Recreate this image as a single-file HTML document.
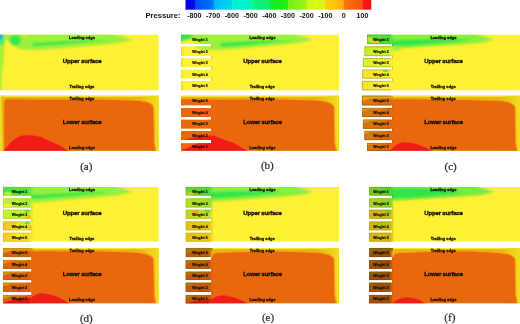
<!DOCTYPE html>
<html lang="en"><head><meta charset="utf-8"><title>Pressure contours</title>
<style>html,body{margin:0;padding:0;background:#fff}body{width:520px;height:324px;overflow:hidden}svg{display:block}</style>
</head><body>
<svg width="520" height="324" viewBox="0 0 520 324">
<defs>
<filter id="b1" x="-10%" y="-40%" width="120%" height="180%"><feGaussianBlur stdDeviation="0.9"/></filter>
<filter id="b2" x="-10%" y="-40%" width="120%" height="180%"><feGaussianBlur stdDeviation="0.6"/></filter>
<filter id="b3" x="-10%" y="-40%" width="120%" height="180%"><feGaussianBlur stdDeviation="1.1"/></filter>
<filter id="b4" x="-10%" y="-40%" width="120%" height="180%"><feGaussianBlur stdDeviation="0.3"/></filter>
<filter id="soft" x="-2%" y="-2%" width="104%" height="104%"><feGaussianBlur stdDeviation="0.35"/></filter>
<filter id="softt" x="-5%" y="-20%" width="110%" height="140%"><feGaussianBlur stdDeviation="0.25"/></filter>
<linearGradient id="goldtop" x1="0" y1="0" x2="0" y2="1"><stop offset="0" stop-color="#e4b80c"/><stop offset="1" stop-color="#f0cc18"/></linearGradient>
<clipPath id="cua"><path d="M0.0 34.8H158.6V90.2H0.0Z"/></clipPath>
<clipPath id="cla"><path d="M0.0 95.8H158.6V150.8H0.0Z"/></clipPath>
<clipPath id="cub"><path d="M211.2 34.8H339.0V90.2H211.2Z M181.0 34.8H211.39999999999998V44.0H181.0Z M181.0 46.6H211.39999999999998V56.0H181.0Z M181.0 58.3H211.39999999999998V67.0H181.0Z M181.0 69.7H211.39999999999998V78.4H181.0Z M181.0 81.0H211.39999999999998V90.2H181.0Z"/></clipPath>
<clipPath id="clb"><path d="M211.2 95.8H339.0V150.8H211.2Z M181.0 95.8H211.39999999999998V105.3H181.0Z M181.0 108.0H211.39999999999998V117.0H181.0Z M181.0 119.7H211.39999999999998V128.6H181.0Z M181.0 130.9H211.39999999999998V140.0H181.0Z M181.0 143.2H211.39999999999998V150.8H181.0Z"/></clipPath>
<clipPath id="cuc"><path d="M392.0 34.8H520.0V90.2H392.0Z M367.3 34.8H392.2V44.0H367.3Z M364.6 46.6H392.2V56.0H364.6Z M363.0 58.3H392.2V67.0H363.0Z M362.4 69.7H392.2V78.4H362.4Z M362.0 81.0H392.2V90.2H362.0Z"/></clipPath>
<clipPath id="clc"><path d="M392.0 95.8H520.0V150.8H392.0Z M362.0 95.8H392.2V105.3H362.0Z M362.4 108.0H392.2V117.0H362.4Z M363.0 119.7H392.2V128.6H363.0Z M364.6 130.9H392.2V140.0H364.6Z M367.3 143.2H392.2V150.8H367.3Z"/></clipPath>
<clipPath id="cud"><path d="M31.5 186.9H158.6V241.6H31.5Z M3.0 186.9H31.7V195.4H3.0Z M3.0 198.4H31.7V207.4H3.0Z M3.0 209.7H31.7V218.8H3.0Z M3.0 221.6H31.7V230.3H3.0Z M3.0 232.8H31.7V241.6H3.0Z"/></clipPath>
<clipPath id="cld"><path d="M31.5 248.0H158.6V303.2H31.5Z M3.0 248.0H31.7V257.0H3.0Z M3.0 260.3H31.7V268.7H3.0Z M3.0 271.8H31.7V280.0H3.0Z M3.0 282.8H31.7V291.8H3.0Z M3.0 295.0H31.7V303.2H3.0Z"/></clipPath>
<clipPath id="cue"><path d="M211.4 186.9H339.0V241.6H211.4Z M185.8 186.9H211.6V195.4H185.8Z M185.8 198.4H211.6V207.4H185.8Z M185.8 209.7H211.6V218.8H185.8Z M185.8 221.6H211.6V230.3H185.8Z M185.8 232.8H211.6V241.6H185.8Z"/></clipPath>
<clipPath id="cle"><path d="M211.4 248.0H339.0V303.2H211.4Z M185.8 248.0H211.6V257.0H185.8Z M185.8 260.3H211.6V268.7H185.8Z M185.8 271.8H211.6V280.0H185.8Z M185.8 282.8H211.6V291.8H185.8Z M185.8 295.0H211.6V303.2H185.8Z"/></clipPath>
<clipPath id="cuf"><path d="M392.0 186.9H520.0V241.6H392.0Z M369.2 186.9H392.2V195.4H369.2Z M369.2 198.4H392.2V207.4H369.2Z M369.2 209.7H392.2V218.8H369.2Z M369.2 221.6H392.2V230.3H369.2Z M369.2 232.8H392.2V241.6H369.2Z"/></clipPath>
<clipPath id="clf"><path d="M392.0 248.0H520.0V303.2H392.0Z M369.2 248.0H392.2V257.0H369.2Z M369.2 260.3H392.2V268.7H369.2Z M369.2 271.8H392.2V280.0H369.2Z M369.2 282.8H392.2V291.8H369.2Z M369.2 295.0H392.2V303.2H369.2Z"/></clipPath>
</defs>
<rect width="520" height="324" fill="#fff"/>
<g id="legend" filter="url(#soft)">
<linearGradient id="lg0" x1="0" y1="0" x2="1" y2="0"><stop offset="0" stop-color="#0404e4"/><stop offset="0.5" stop-color="#0404e4"/><stop offset="1" stop-color="#0418e8"/></linearGradient>
<rect x="185.5" y="-1" width="9.8" height="10.7" fill="url(#lg0)"/>
<linearGradient id="lg1" x1="0" y1="0" x2="1" y2="0"><stop offset="0" stop-color="#044cf0"/><stop offset="0.5" stop-color="#0460f4"/><stop offset="1" stop-color="#0478f5"/></linearGradient>
<rect x="195.0" y="-1" width="19.0" height="10.7" fill="url(#lg1)"/>
<linearGradient id="lg2" x1="0" y1="0" x2="1" y2="0"><stop offset="0" stop-color="#04b4f7"/><stop offset="0.5" stop-color="#04ccf8"/><stop offset="1" stop-color="#04d5ef"/></linearGradient>
<rect x="213.7" y="-1" width="19.0" height="10.7" fill="url(#lg2)"/>
<linearGradient id="lg3" x1="0" y1="0" x2="1" y2="0"><stop offset="0" stop-color="#04ebd9"/><stop offset="0.5" stop-color="#04f4d0"/><stop offset="1" stop-color="#05f3bd"/></linearGradient>
<rect x="232.4" y="-1" width="19.1" height="10.7" fill="url(#lg3)"/>
<linearGradient id="lg4" x1="0" y1="0" x2="1" y2="0"><stop offset="0" stop-color="#07f18b"/><stop offset="0.5" stop-color="#08f078"/><stop offset="1" stop-color="#0bef63"/></linearGradient>
<rect x="251.2" y="-1" width="19.0" height="10.7" fill="url(#lg4)"/>
<linearGradient id="lg5" x1="0" y1="0" x2="1" y2="0"><stop offset="0" stop-color="#13ed2f"/><stop offset="0.5" stop-color="#16ec1a"/><stop offset="1" stop-color="#30ed19"/></linearGradient>
<rect x="269.9" y="-1" width="18.7" height="10.7" fill="url(#lg5)"/>
<linearGradient id="lg6" x1="0" y1="0" x2="1" y2="0"><stop offset="0" stop-color="#72ef15"/><stop offset="0.5" stop-color="#8cf014"/><stop offset="1" stop-color="#9ef214"/></linearGradient>
<rect x="288.3" y="-1" width="18.6" height="10.7" fill="url(#lg6)"/>
<linearGradient id="lg7" x1="0" y1="0" x2="1" y2="0"><stop offset="0" stop-color="#caf614"/><stop offset="0.5" stop-color="#dcf814"/><stop offset="1" stop-color="#e3ed13"/></linearGradient>
<rect x="306.6" y="-1" width="18.9" height="10.7" fill="url(#lg7)"/>
<linearGradient id="lg8" x1="0" y1="0" x2="1" y2="0"><stop offset="0" stop-color="#f5cf11"/><stop offset="0.5" stop-color="#fcc410"/><stop offset="1" stop-color="#fbaf10"/></linearGradient>
<rect x="325.2" y="-1" width="18.7" height="10.7" fill="url(#lg8)"/>
<linearGradient id="lg9" x1="0" y1="0" x2="1" y2="0"><stop offset="0" stop-color="#f97910"/><stop offset="0.5" stop-color="#f86410"/><stop offset="1" stop-color="#f65211"/></linearGradient>
<rect x="343.6" y="-1" width="18.9" height="10.7" fill="url(#lg9)"/>
<linearGradient id="lg10" x1="0" y1="0" x2="1" y2="0"><stop offset="0" stop-color="#f22613"/><stop offset="0.5" stop-color="#f01414"/><stop offset="1" stop-color="#f01414"/></linearGradient>
<rect x="362.2" y="-1" width="9.1" height="10.7" fill="url(#lg10)"/>
</g>
<g font-family="'Liberation Sans', Arial, sans-serif" fill="#141414" filter="url(#softt)">
<text transform="translate(145.5 17.8) scale(0.1)" font-size="65" font-weight="bold" textLength="351" lengthAdjust="spacingAndGlyphs">Pressure:</text>
<text transform="translate(187.2 17.8) scale(0.1)" font-size="64" font-weight="bold" textLength="143" lengthAdjust="spacingAndGlyphs">-800</text>
<text transform="translate(205.9 17.8) scale(0.1)" font-size="64" font-weight="bold" textLength="143" lengthAdjust="spacingAndGlyphs">-700</text>
<text transform="translate(224.7 17.8) scale(0.1)" font-size="64" font-weight="bold" textLength="143" lengthAdjust="spacingAndGlyphs">-600</text>
<text transform="translate(243.4 17.8) scale(0.1)" font-size="64" font-weight="bold" textLength="143" lengthAdjust="spacingAndGlyphs">-500</text>
<text transform="translate(262.2 17.8) scale(0.1)" font-size="64" font-weight="bold" textLength="143" lengthAdjust="spacingAndGlyphs">-400</text>
<text transform="translate(280.7 17.8) scale(0.1)" font-size="64" font-weight="bold" textLength="143" lengthAdjust="spacingAndGlyphs">-300</text>
<text transform="translate(299.4 17.8) scale(0.1)" font-size="64" font-weight="bold" textLength="143" lengthAdjust="spacingAndGlyphs">-200</text>
<text transform="translate(318.2 17.8) scale(0.1)" font-size="64" font-weight="bold" textLength="143" lengthAdjust="spacingAndGlyphs">-100</text>
<text transform="translate(341.8 17.8) scale(0.1)" font-size="64" font-weight="bold" textLength="40" lengthAdjust="spacingAndGlyphs">0</text>
<text transform="translate(356.6 17.8) scale(0.1)" font-size="64" font-weight="bold" textLength="118" lengthAdjust="spacingAndGlyphs">100</text>
</g>
<g id="pa" filter="url(#soft)">
<g clip-path="url(#cua)">
<rect x="-2.0" y="33.8" width="162.6" height="57.4" fill="#fef032"/>
<g filter="url(#b3)">
<path d="M-3.0 31.799999999999997 H108.0 L122.0 36.4 L132.5 39.9 L120.0 42.8 L100.0 44.9 L60.0 48.4 L36.0 50.3 L22.0 49.4 L16.0 47.4 L9.5 41.8 L6.6 39.3 L-3.0 39.3 Z" fill="#9cf03c"/>
<path d="M-3.0 34.8 H6.6 L4.6 44.8 L3.6 58.8 L1.8 74.8 L1.0 92.8 L-3.0 92.8 Z" fill="#a4f03a"/>
</g>
<g filter="url(#b1)">
<path d="M32.0 43.9 L35.1 43.2 L55.4 42.0 L78.8 40.9 L98.3 40.2 L110.0 39.9 L110.0 40.1 L98.3 41.2 L78.8 42.8 L55.4 44.6 L35.1 45.8 L32.0 45.5Z" fill="#30e44a"/>
<ellipse cx="15.2" cy="40.199999999999996" rx="5.4" ry="5.0" fill="#38e650"/>
<ellipse cx="25.0" cy="36.099999999999994" rx="2.2" ry="1" fill="#e8f030"/>
<rect x="-2.0" y="32.8" width="5.6" height="12" fill="#50e870"/>
<rect x="-2.0" y="32.8" width="4.6" height="7.4" fill="#28dcc0"/>
<rect x="-2.0" y="32.8" width="3.2" height="6.2" fill="#2880f0"/>
</g>
</g>
<g clip-path="url(#cla)">
<rect x="-2.0" y="94.8" width="162.6" height="57.0" fill="url(#goldtop)"/>
<rect x="-2.0" y="94.6" width="162.6" height="2.3" fill="#f8e434" filter="url(#b2)"/>
<rect x="-1.2" y="94.8" width="2.6" height="57.0" fill="#f4dc30" filter="url(#b2)"/>
<linearGradient id="rsa" gradientUnits="userSpaceOnUse" x1="138.0" y1="0" x2="158.6" y2="0"><stop offset="0" stop-color="#ecd41a" stop-opacity="0"/><stop offset="0.7" stop-color="#ecd41a"/><stop offset="1" stop-color="#f2dc22"/></linearGradient>
<rect x="138.0" y="94.8" width="22" height="57.0" fill="url(#rsa)"/>
<g filter="url(#b2)">
<path d="M3.7 152.8 V102.8 Q3.7 98.69999999999999 8.7 98.6 L40.0 99.1 L100.0 98.8 L135.0 100.2 Q153.3 101.39999999999999 153.8 107.8 L154.4 142.8 L156.4 152.8 Z" fill="#e96711" stroke="#f8a012" stroke-width="1.2"/>
</g>
<g filter="url(#b4)">
<path d="M2.5,152 L6,148 L10,143 Q17,135.6 25,135 Q33,134.8 40,136.6 L60,145.4 L70.5,152 Z" fill="#f01a14" stroke="#f4521a" stroke-width="0.5"/>
</g>
</g>
</g>
<g id="pb" filter="url(#soft)">
<g clip-path="url(#cub)">
<rect x="178.4" y="33.8" width="162.6" height="57.4" fill="#fef032"/>
<g filter="url(#b3)">
<path d="M177.4 31.799999999999997 H288.4 L302.4 36.4 L312.9 39.9 L300.4 42.8 L280.4 44.9 L240.4 48.4 L216.4 50.3 L202.4 49.4 L196.4 47.4 L189.9 41.8 L187.0 39.3 L177.4 39.3 Z" fill="#9cf03c"/>
<rect x="179.4" y="38.8" width="2.4" height="60" fill="#c4dc28"/>
</g>
<g filter="url(#b1)">
<path d="M220.4 44.0 L223.3 43.2 L242.0 42.0 L263.6 41.0 L281.6 40.4 L292.4 40.2 L292.4 40.4 L281.6 41.6 L263.6 43.3 L242.0 45.2 L223.3 46.4 L220.4 46.0Z" fill="#30e44a"/>
<path d="M178.4 32.8 H193.4 L189.4 39.3 L183.4 41.8 L178.4 42.3 Z" fill="#30e44a"/>
<path d="M180.4 44.8 L183.4 40.8 L189.4 40.199999999999996 L196.4 41.8 L202.4 44.8 Z" fill="#fef032"/>
</g>
</g>
<g clip-path="url(#clb)">
<rect x="178.4" y="94.8" width="162.6" height="57.0" fill="url(#goldtop)"/>
<rect x="178.4" y="94.6" width="162.6" height="2.3" fill="#f8e434" filter="url(#b2)"/>
<linearGradient id="rsb" gradientUnits="userSpaceOnUse" x1="318.4" y1="0" x2="339.0" y2="0"><stop offset="0" stop-color="#ecd41a" stop-opacity="0"/><stop offset="0.7" stop-color="#ecd41a"/><stop offset="1" stop-color="#f2dc22"/></linearGradient>
<rect x="318.4" y="94.8" width="22" height="57.0" fill="url(#rsb)"/>
<g filter="url(#b2)">
<path d="M177.4 152.8 V102.8 Q177.4 98.69999999999999 182.4 98.6 L189.1 98.6 L220.4 99.1 L280.4 98.8 L315.4 100.2 Q333.7 101.39999999999999 334.2 107.8 L334.8 142.8 L336.8 152.8 Z" fill="#e96711" stroke="#f8a012" stroke-width="1.2"/>
</g>
<g filter="url(#b4)">
<path d="M181,152 L182.5,150 L190,146.5 L199,142.5 L213,142.5 L213,152 Z" fill="#f01a14" stroke="#f4521a" stroke-width="0.5"/>
<path d="M181,141.5 L183,140.2 L190,138 L200,136.3 L211,135.3 L215,135.8 L220,138 L234,143 L249.4,152 L205,152 L205,141.5 Z" fill="#f01a14" stroke="#f4521a" stroke-width="0.5"/>
</g>
</g>
<path d="M211.55 43.8V46.8 M211.55 55.8V58.5 M211.55 66.8V69.9 M211.55 78.2V81.2 M211.55 105.1V108.2 M211.55 116.8V119.9 M211.55 128.4V131.1 M211.55 139.8V143.4" fill="none" stroke="#4a4a20" stroke-width="0.55" opacity="0.5"/>
</g>
<g id="pc" filter="url(#soft)">
<g clip-path="url(#cuc)">
<rect x="359.4" y="33.8" width="162.6" height="57.4" fill="#fef032"/>
<g filter="url(#b3)">
<path d="M358.4 31.799999999999997 H469.4 L483.4 36.4 L493.9 39.9 L481.4 42.8 L461.4 44.4 L421.4 47.0 L397.4 48.6 L383.4 47.7 L377.4 47.4 L370.9 41.8 L368.0 39.3 L358.4 39.3 Z" fill="#88f03c"/>
</g>
<g filter="url(#b1)">
<path d="M390.4 41.8 L393.6 40.7 L414.1 39.7 L437.8 39.4 L457.6 39.3 L469.4 39.7 L469.4 39.9 L457.6 41.4 L437.8 43.1 L414.1 44.9 L393.6 45.9 L390.4 45.0Z" fill="#30e44a"/>
<ellipse cx="395.4" cy="48.3" rx="5.5" ry="2.6" fill="#a0f03c"/>
</g>
<g filter="url(#b2)">
<linearGradient id="guc0" gradientUnits="userSpaceOnUse" x1="362.0" y1="0" x2="394.5" y2="0"><stop offset="0" stop-color="#70dc38"/><stop offset="0.85" stop-color="#48dc40"/><stop offset="1" stop-color="#48dc40" stop-opacity="0"/></linearGradient>
<rect x="359.0" y="34.3" width="35.5" height="10.2" fill="url(#guc0)"/>
<ellipse cx="374.4" cy="41.8" rx="5" ry="1.6" fill="#f0c828"/>
<ellipse cx="369.4" cy="39.3" rx="2.5" ry="2.5" fill="#b8e830"/>
<linearGradient id="guc1" gradientUnits="userSpaceOnUse" x1="362.0" y1="0" x2="394.5" y2="0"><stop offset="0" stop-color="#c4f024"/><stop offset="0.85" stop-color="#d0f428"/><stop offset="1" stop-color="#d0f428" stop-opacity="0"/></linearGradient>
<rect x="359.0" y="46.1" width="35.5" height="10.4" fill="url(#guc1)"/>
<linearGradient id="guc2" gradientUnits="userSpaceOnUse" x1="362.0" y1="0" x2="394.5" y2="0"><stop offset="0" stop-color="#d4f428"/><stop offset="0.85" stop-color="#f0f030"/><stop offset="1" stop-color="#f0f030" stop-opacity="0"/></linearGradient>
<rect x="359.0" y="57.8" width="35.5" height="9.7" fill="url(#guc2)"/>
<linearGradient id="guc3" gradientUnits="userSpaceOnUse" x1="362.0" y1="0" x2="394.5" y2="0"><stop offset="0" stop-color="#f8e430"/><stop offset="0.85" stop-color="#fcec30"/><stop offset="1" stop-color="#fcec30" stop-opacity="0"/></linearGradient>
<rect x="359.0" y="69.2" width="35.5" height="9.7" fill="url(#guc3)"/>
<ellipse cx="385.4" cy="70.7" rx="2.5" ry="1.5" fill="#70e840"/>
<linearGradient id="guc4" gradientUnits="userSpaceOnUse" x1="362.0" y1="0" x2="394.5" y2="0"><stop offset="0" stop-color="#f8e030"/><stop offset="0.85" stop-color="#fef032"/><stop offset="1" stop-color="#fef032" stop-opacity="0"/></linearGradient>
<rect x="359.0" y="80.5" width="35.5" height="10.2" fill="url(#guc4)"/>
</g>
</g>
<g clip-path="url(#clc)">
<rect x="359.4" y="94.8" width="162.6" height="57.0" fill="url(#goldtop)"/>
<rect x="359.4" y="94.6" width="162.6" height="2.3" fill="#f8e434" filter="url(#b2)"/>
<linearGradient id="rsc" gradientUnits="userSpaceOnUse" x1="499.4" y1="0" x2="520.0" y2="0"><stop offset="0" stop-color="#ecd41a" stop-opacity="0"/><stop offset="0.7" stop-color="#ecd41a"/><stop offset="1" stop-color="#f2dc22"/></linearGradient>
<rect x="499.4" y="94.8" width="22" height="57.0" fill="url(#rsc)"/>
<g filter="url(#b2)">
<path d="M358.4 152.8 V102.8 Q358.4 98.69999999999999 363.4 98.6 L391.4 98.6 L421.4 99.0 L461.4 99.5 L496.4 100.5 Q514.7 101.39999999999999 515.2 107.8 L515.8 142.8 L517.8 152.8 Z" fill="#e96711" stroke="#f8a012" stroke-width="1.2"/>
</g>
<g filter="url(#b2)">
<linearGradient id="glc0" gradientUnits="userSpaceOnUse" x1="362.0" y1="0" x2="393.2" y2="0"><stop offset="0" stop-color="#d8780e"/><stop offset="0.85" stop-color="#dc6a10"/><stop offset="1" stop-color="#dc6a10" stop-opacity="0"/></linearGradient>
<rect x="359.0" y="95.3" width="34.2" height="10.5" fill="url(#glc0)"/>
<path d="M359.0 94.8 H393.0 V98.2 L371.0 98.39999999999999 L365.0 100.3 L359.0 101.8 Z" fill="#e0a812"/>
<linearGradient id="glc1" gradientUnits="userSpaceOnUse" x1="362.0" y1="0" x2="393.2" y2="0"><stop offset="0" stop-color="#d8780e"/><stop offset="0.85" stop-color="#dc6a10"/><stop offset="1" stop-color="#dc6a10" stop-opacity="0"/></linearGradient>
<rect x="359.0" y="107.5" width="34.2" height="10.0" fill="url(#glc1)"/>
<path d="M359.0 107.0 H390.0 L386.0 108.9 L370.0 109.3 L364.5 111.0 L359.0 113.0 Z" fill="#e0a812" opacity="0.85"/>
<linearGradient id="glc2" gradientUnits="userSpaceOnUse" x1="362.0" y1="0" x2="393.2" y2="0"><stop offset="0" stop-color="#d8780e"/><stop offset="0.85" stop-color="#dc6a10"/><stop offset="1" stop-color="#dc6a10" stop-opacity="0"/></linearGradient>
<rect x="359.0" y="119.2" width="34.2" height="9.9" fill="url(#glc2)"/>
<path d="M359.0 118.7 H390.0 L386.0 120.60000000000001 L370.0 121.0 L364.5 122.7 L359.0 124.7 Z" fill="#e0a812" opacity="0.85"/>
<linearGradient id="glc3" gradientUnits="userSpaceOnUse" x1="362.0" y1="0" x2="393.2" y2="0"><stop offset="0" stop-color="#d8780e"/><stop offset="0.85" stop-color="#dc6a10"/><stop offset="1" stop-color="#dc6a10" stop-opacity="0"/></linearGradient>
<rect x="359.0" y="130.4" width="34.2" height="10.1" fill="url(#glc3)"/>
<path d="M359.0 129.9 H390.0 L386.0 131.8 L370.0 132.20000000000002 L364.5 133.9 L359.0 135.9 Z" fill="#e0a812" opacity="0.85"/>
<linearGradient id="glc4" gradientUnits="userSpaceOnUse" x1="362.0" y1="0" x2="393.2" y2="0"><stop offset="0" stop-color="#d8780e"/><stop offset="0.85" stop-color="#dc6a10"/><stop offset="1" stop-color="#dc6a10" stop-opacity="0"/></linearGradient>
<rect x="359.0" y="142.7" width="34.2" height="8.6" fill="url(#glc4)"/>
<path d="M359.0 142.2 H390.0 L386.0 144.1 L370.0 144.5 L364.5 146.2 L359.0 148.2 Z" fill="#e0a812" opacity="0.85"/>
</g>
<g filter="url(#b4)">
<path d="M389.6,152 Q394,143.6 403,142.2 Q410,141.8 416,143.8 L426,147.6 L434,152 Z" fill="#f01a14" stroke="#f4521a" stroke-width="0.5"/>
</g>
</g>
<path d="M392.35 43.8V46.8 M392.35 55.8V58.5 M392.35 66.8V69.9 M392.35 78.2V81.2 M392.35 105.1V108.2 M392.35 116.8V119.9 M392.35 128.4V131.1 M392.35 139.8V143.4" fill="none" stroke="#4a4a20" stroke-width="0.55" opacity="0.5"/>
<path d="M391.0 35.05H367.55V43.75H391.0 M391.0 46.85H364.85V55.75H391.0 M391.0 58.55H363.25V66.75H391.0 M391.0 69.95H362.65V78.15H391.0 M391.0 81.25H362.25V89.95H391.0" fill="none" stroke="#6a7a10" stroke-width="0.55" opacity="0.7"/>
<path d="M391.0 96.05H362.25V105.05H391.0 M391.0 108.25H362.65V116.75H391.0 M391.0 119.95H363.25V128.35H391.0 M391.0 131.15H364.85V139.75H391.0 M391.0 143.45H367.55V150.55H391.0" fill="none" stroke="#6a3a06" stroke-width="0.55" opacity="0.7"/>
</g>
<g id="pd" filter="url(#soft)">
<g clip-path="url(#cud)">
<rect x="-2.0" y="185.9" width="162.6" height="56.7" fill="#fef032"/>
<g filter="url(#b3)">
<path d="M-3.0 183.9 H108.0 L122.0 188.5 L132.5 192.0 L120.0 194.9 L100.0 197.0 L60.0 200.5 L36.0 202.4 L22.0 201.5 L16.0 199.5 L9.5 193.9 L6.6 191.4 L-3.0 191.4 Z" fill="#94f03c"/>
</g>
<g filter="url(#b1)">
<path d="M31.0 196.1 L34.2 195.3 L54.7 193.9 L78.4 192.8 L98.2 192.0 L110.0 191.8 L110.0 192.0 L98.2 193.3 L78.4 195.1 L54.7 197.1 L34.2 198.5 L31.0 198.1Z" fill="#30e44a"/>
</g>
<g filter="url(#b2)">
<linearGradient id="gud0" gradientUnits="userSpaceOnUse" x1="3.0" y1="0" x2="34.0" y2="0"><stop offset="0" stop-color="#58e040"/><stop offset="0.85" stop-color="#58e442"/><stop offset="1" stop-color="#58e442" stop-opacity="0"/></linearGradient>
<rect x="0.0" y="186.4" width="34.0" height="9.5" fill="url(#gud0)"/>
<ellipse cx="8.0" cy="193.9" rx="4" ry="2" fill="#b0f030"/>
<linearGradient id="gud1" gradientUnits="userSpaceOnUse" x1="3.0" y1="0" x2="34.0" y2="0"><stop offset="0" stop-color="#c0f030"/><stop offset="0.85" stop-color="#a0f034"/><stop offset="1" stop-color="#a0f034" stop-opacity="0"/></linearGradient>
<rect x="0.0" y="197.9" width="34.0" height="10.0" fill="url(#gud1)"/>
<ellipse cx="8.0" cy="205.4" rx="5" ry="2" fill="#f0f030"/>
<linearGradient id="gud2" gradientUnits="userSpaceOnUse" x1="3.0" y1="0" x2="34.0" y2="0"><stop offset="0" stop-color="#c4f030"/><stop offset="0.85" stop-color="#b8f030"/><stop offset="1" stop-color="#b8f030" stop-opacity="0"/></linearGradient>
<rect x="0.0" y="209.2" width="34.0" height="10.1" fill="url(#gud2)"/>
<ellipse cx="28.0" cy="216.7" rx="3" ry="2.5" fill="#f8c028"/>
<ellipse cx="27.0" cy="211.2" rx="2.5" ry="1.5" fill="#60e840"/>
<linearGradient id="gud3" gradientUnits="userSpaceOnUse" x1="3.0" y1="0" x2="34.0" y2="0"><stop offset="0" stop-color="#f8c028"/><stop offset="0.85" stop-color="#d8f030"/><stop offset="1" stop-color="#d8f030" stop-opacity="0"/></linearGradient>
<rect x="0.0" y="221.1" width="34.0" height="9.7" fill="url(#gud3)"/>
<ellipse cx="27.0" cy="223.1" rx="2.5" ry="1.5" fill="#70e840"/>
<ellipse cx="30.0" cy="227.6" rx="2" ry="3" fill="#f8c028"/>
<linearGradient id="gud4" gradientUnits="userSpaceOnUse" x1="3.0" y1="0" x2="34.0" y2="0"><stop offset="0" stop-color="#f8c82c"/><stop offset="0.85" stop-color="#f4e02c"/><stop offset="1" stop-color="#f4e02c" stop-opacity="0"/></linearGradient>
<rect x="0.0" y="232.3" width="34.0" height="9.8" fill="url(#gud4)"/>
<ellipse cx="17.0" cy="235.3" rx="5" ry="2" fill="#e8f030"/>
</g>
</g>
<g clip-path="url(#cld)">
<rect x="-2.0" y="247.0" width="162.6" height="57.2" fill="url(#goldtop)"/>
<rect x="-2.0" y="246.8" width="162.6" height="2.3" fill="#f8e434" filter="url(#b2)"/>
<linearGradient id="rsd" gradientUnits="userSpaceOnUse" x1="138.0" y1="0" x2="158.6" y2="0"><stop offset="0" stop-color="#ecd41a" stop-opacity="0"/><stop offset="0.7" stop-color="#ecd41a"/><stop offset="1" stop-color="#f2dc22"/></linearGradient>
<rect x="138.0" y="247.0" width="22" height="57.2" fill="url(#rsd)"/>
<g filter="url(#b2)">
<path d="M-3.0 305.2 V255.0 Q-3.0 250.7 2.0 250.6 L30.0 250.6 L100.0 250.8 L135.0 252.2 Q153.3 253.6 153.8 260.0 L154.4 295.2 L156.4 305.2 Z" fill="#e96711" stroke="#f8a012" stroke-width="1.2"/>
</g>
<g filter="url(#b2)">
<linearGradient id="gld0" gradientUnits="userSpaceOnUse" x1="3.0" y1="0" x2="32.7" y2="0"><stop offset="0" stop-color="#d8620e"/><stop offset="0.85" stop-color="#d8620e"/><stop offset="1" stop-color="#d8620e" stop-opacity="0"/></linearGradient>
<rect x="0.0" y="247.5" width="32.7" height="10.0" fill="url(#gld0)"/>
<path d="M0.0 247.0 H32.5 V250.4 L12.0 250.6 L6.0 252.5 L0.0 254.0 Z" fill="#dca010"/>
<linearGradient id="gld1" gradientUnits="userSpaceOnUse" x1="3.0" y1="0" x2="32.7" y2="0"><stop offset="0" stop-color="#d8620e"/><stop offset="0.85" stop-color="#d8620e"/><stop offset="1" stop-color="#d8620e" stop-opacity="0"/></linearGradient>
<rect x="0.0" y="259.8" width="32.7" height="9.4" fill="url(#gld1)"/>
<path d="M0.0 259.3 H29.5 L25.5 261.2 L11.0 261.6 L5.5 263.3 L0.0 265.3 Z" fill="#dca010" opacity="0.85"/>
<linearGradient id="gld2" gradientUnits="userSpaceOnUse" x1="3.0" y1="0" x2="32.7" y2="0"><stop offset="0" stop-color="#d8620e"/><stop offset="0.85" stop-color="#d8620e"/><stop offset="1" stop-color="#d8620e" stop-opacity="0"/></linearGradient>
<rect x="0.0" y="271.3" width="32.7" height="9.2" fill="url(#gld2)"/>
<path d="M0.0 270.8 H29.5 L25.5 272.7 L11.0 273.1 L5.5 274.8 L0.0 276.8 Z" fill="#dca010" opacity="0.85"/>
<linearGradient id="gld3" gradientUnits="userSpaceOnUse" x1="3.0" y1="0" x2="32.7" y2="0"><stop offset="0" stop-color="#d8620e"/><stop offset="0.85" stop-color="#d8620e"/><stop offset="1" stop-color="#d8620e" stop-opacity="0"/></linearGradient>
<rect x="0.0" y="282.3" width="32.7" height="10.0" fill="url(#gld3)"/>
<path d="M0.0 281.8 H29.5 L25.5 283.7 L11.0 284.1 L5.5 285.8 L0.0 287.8 Z" fill="#dca010" opacity="0.85"/>
<linearGradient id="gld4" gradientUnits="userSpaceOnUse" x1="3.0" y1="0" x2="32.7" y2="0"><stop offset="0" stop-color="#d8620e"/><stop offset="0.85" stop-color="#d8620e"/><stop offset="1" stop-color="#d8620e" stop-opacity="0"/></linearGradient>
<rect x="0.0" y="294.5" width="32.7" height="9.2" fill="url(#gld4)"/>
<path d="M0.0 294.0 H29.5 L25.5 295.9 L11.0 296.3 L5.5 298.0 L0.0 300.0 Z" fill="#dca010" opacity="0.85"/>
</g>
<g filter="url(#b4)">
<path d="M3,304.5 L4,302.5 L15,299 L31.5,297.3 L33,304.5 Z" fill="#dc1812" stroke="#f4521a" stroke-width="0.5"/>
<path d="M31.2,304.5 L31.2,297.3 L35,295 Q38,293.2 40.4,293.2 Q45,293.2 50,294.4 L57,296.6 L63,299.4 L70.8,304.5 Z" fill="#f01a14" stroke="#f4521a" stroke-width="0.5"/>
</g>
</g>
<path d="M31.85 195.2V198.6 M31.85 207.2V209.9 M31.85 218.6V221.8 M31.85 230.1V233.0 M31.85 256.8V260.5 M31.85 268.5V272.0 M31.85 279.8V283.0 M31.85 291.6V295.2" fill="none" stroke="#4a4a20" stroke-width="0.55" opacity="0.5"/>
<path d="M30.5 187.15H3.25V195.15H30.5 M30.5 198.65H3.25V207.15H30.5 M30.5 209.95H3.25V218.55H30.5 M30.5 221.85H3.25V230.05H30.5 M30.5 233.05H3.25V241.35H30.5" fill="none" stroke="#8a8a10" stroke-width="0.55" opacity="0.35"/>
<path d="M30.5 248.25H3.25V256.75H30.5 M30.5 260.55H3.25V268.45H30.5 M30.5 272.05H3.25V279.75H30.5 M30.5 283.05H3.25V291.55H30.5 M30.5 295.25H3.25V302.95H30.5" fill="none" stroke="#7a4008" stroke-width="0.55" opacity="0.35"/>
</g>
<g id="pe" filter="url(#soft)">
<g clip-path="url(#cue)">
<rect x="178.4" y="185.9" width="162.6" height="56.7" fill="#fef032"/>
<g filter="url(#b3)">
<path d="M177.4 183.9 H288.4 L302.4 188.5 L312.9 192.0 L300.4 194.9 L280.4 196.7 L240.4 199.7 L216.4 201.4 L202.4 200.5 L196.4 199.5 L189.9 193.9 L187.0 191.4 L177.4 191.4 Z" fill="#88f03c"/>
</g>
<g filter="url(#b1)">
<path d="M209.4 193.7 L212.3 192.5 L231.3 191.6 L253.2 191.3 L271.4 191.3 L282.4 191.8 L282.4 192.0 L271.4 193.5 L253.2 195.2 L231.3 197.0 L212.3 197.9 L209.4 196.9Z" fill="#30e44a"/>
</g>
<g filter="url(#b2)">
<linearGradient id="gue0" gradientUnits="userSpaceOnUse" x1="185.8" y1="0" x2="213.9" y2="0"><stop offset="0" stop-color="#70d030"/><stop offset="0.85" stop-color="#50dc3c"/><stop offset="1" stop-color="#50dc3c" stop-opacity="0"/></linearGradient>
<rect x="182.8" y="186.4" width="31.1" height="9.5" fill="url(#gue0)"/>
<ellipse cx="190.4" cy="193.9" rx="4" ry="2" fill="#a8d828"/>
<linearGradient id="gue1" gradientUnits="userSpaceOnUse" x1="185.8" y1="0" x2="213.9" y2="0"><stop offset="0" stop-color="#b4e020"/><stop offset="0.85" stop-color="#98e030"/><stop offset="1" stop-color="#98e030" stop-opacity="0"/></linearGradient>
<rect x="182.8" y="197.9" width="31.1" height="10.0" fill="url(#gue1)"/>
<linearGradient id="gue2" gradientUnits="userSpaceOnUse" x1="185.8" y1="0" x2="213.9" y2="0"><stop offset="0" stop-color="#c0d820"/><stop offset="0.85" stop-color="#c8e028"/><stop offset="1" stop-color="#c8e028" stop-opacity="0"/></linearGradient>
<rect x="182.8" y="209.2" width="31.1" height="10.1" fill="url(#gue2)"/>
<ellipse cx="195.4" cy="212.2" rx="3.5" ry="2" fill="#f0b018"/>
<ellipse cx="207.4" cy="211.2" rx="3" ry="1.5" fill="#60e040"/>
<linearGradient id="gue3" gradientUnits="userSpaceOnUse" x1="185.8" y1="0" x2="213.9" y2="0"><stop offset="0" stop-color="#e8c014"/><stop offset="0.85" stop-color="#e8c418"/><stop offset="1" stop-color="#e8c418" stop-opacity="0"/></linearGradient>
<rect x="182.8" y="221.1" width="31.1" height="9.7" fill="url(#gue3)"/>
<linearGradient id="gue4" gradientUnits="userSpaceOnUse" x1="185.8" y1="0" x2="213.9" y2="0"><stop offset="0" stop-color="#e8c014"/><stop offset="0.85" stop-color="#ecc81c"/><stop offset="1" stop-color="#ecc81c" stop-opacity="0"/></linearGradient>
<rect x="182.8" y="232.3" width="31.1" height="9.8" fill="url(#gue4)"/>
</g>
</g>
<g clip-path="url(#cle)">
<rect x="178.4" y="247.0" width="162.6" height="57.2" fill="url(#goldtop)"/>
<rect x="178.4" y="246.8" width="162.6" height="2.3" fill="#f8e434" filter="url(#b2)"/>
<linearGradient id="rse" gradientUnits="userSpaceOnUse" x1="318.4" y1="0" x2="339.0" y2="0"><stop offset="0" stop-color="#ecd41a" stop-opacity="0"/><stop offset="0.7" stop-color="#ecd41a"/><stop offset="1" stop-color="#f2dc22"/></linearGradient>
<rect x="318.4" y="247.0" width="22" height="57.2" fill="url(#rse)"/>
<g filter="url(#b2)">
<path d="M182.8 305.2 V257.5 H211.8 Q212.0 252.8 217.4 252.4 L240.4 251.7 L280.4 251.0 L315.4 252.4 Q333.7 253.6 334.2 260.0 L334.8 295.2 L336.8 305.2 Z" fill="#e96711" stroke="#f8a012" stroke-width="1.2"/>
</g>
<g filter="url(#b2)">
<linearGradient id="gle0" gradientUnits="userSpaceOnUse" x1="185.8" y1="0" x2="212.6" y2="0"><stop offset="0" stop-color="#c05a0a"/><stop offset="0.85" stop-color="#c05a0a"/><stop offset="1" stop-color="#c05a0a" stop-opacity="0"/></linearGradient>
<rect x="182.8" y="247.5" width="29.8" height="10.0" fill="url(#gle0)"/>
<path d="M182.8 247.0 H212.4 V250.4 L194.8 250.6 L188.8 252.5 L182.8 254.0 Z" fill="#a8800a"/>
<linearGradient id="gle1" gradientUnits="userSpaceOnUse" x1="185.8" y1="0" x2="212.6" y2="0"><stop offset="0" stop-color="#c05a0a"/><stop offset="0.85" stop-color="#c05a0a"/><stop offset="1" stop-color="#c05a0a" stop-opacity="0"/></linearGradient>
<rect x="182.8" y="259.8" width="29.8" height="9.4" fill="url(#gle1)"/>
<path d="M182.8 259.3 H209.4 L205.4 261.2 L193.8 261.6 L188.3 263.3 L182.8 265.3 Z" fill="#a8800a" opacity="0.85"/>
<linearGradient id="gle2" gradientUnits="userSpaceOnUse" x1="185.8" y1="0" x2="212.6" y2="0"><stop offset="0" stop-color="#c05a0a"/><stop offset="0.85" stop-color="#c05a0a"/><stop offset="1" stop-color="#c05a0a" stop-opacity="0"/></linearGradient>
<rect x="182.8" y="271.3" width="29.8" height="9.2" fill="url(#gle2)"/>
<path d="M182.8 270.8 H209.4 L205.4 272.7 L193.8 273.1 L188.3 274.8 L182.8 276.8 Z" fill="#a8800a" opacity="0.85"/>
<linearGradient id="gle3" gradientUnits="userSpaceOnUse" x1="185.8" y1="0" x2="212.6" y2="0"><stop offset="0" stop-color="#c05a0a"/><stop offset="0.85" stop-color="#c05a0a"/><stop offset="1" stop-color="#c05a0a" stop-opacity="0"/></linearGradient>
<rect x="182.8" y="282.3" width="29.8" height="10.0" fill="url(#gle3)"/>
<path d="M182.8 281.8 H209.4 L205.4 283.7 L193.8 284.1 L188.3 285.8 L182.8 287.8 Z" fill="#a8800a" opacity="0.85"/>
<linearGradient id="gle4" gradientUnits="userSpaceOnUse" x1="185.8" y1="0" x2="212.6" y2="0"><stop offset="0" stop-color="#c05a0a"/><stop offset="0.85" stop-color="#c05a0a"/><stop offset="1" stop-color="#c05a0a" stop-opacity="0"/></linearGradient>
<rect x="182.8" y="294.5" width="29.8" height="9.2" fill="url(#gle4)"/>
<path d="M182.8 294.0 H209.4 L205.4 295.9 L193.8 296.3 L188.3 298.0 L182.8 300.0 Z" fill="#a8800a" opacity="0.85"/>
</g>
<g filter="url(#b4)">
<path d="M185,304.5 L186,303 L195,300.6 L205,299.6 L211.4,298.6 L212,304.5 Z" fill="#d01810" stroke="#f4521a" stroke-width="0.5"/>
<path d="M208,304.5 L212,299 Q216,295.6 222,295.2 Q230,295.4 240,299.4 L250,304.5 Z" fill="#f01a14" stroke="#f4521a" stroke-width="0.5"/>
</g>
</g>
<path d="M211.75 195.2V198.6 M211.75 207.2V209.9 M211.75 218.6V221.8 M211.75 230.1V233.0 M211.75 256.8V260.5 M211.75 268.5V272.0 M211.75 279.8V283.0 M211.75 291.6V295.2" fill="none" stroke="#4a4a20" stroke-width="0.55" opacity="0.5"/>
<path d="M210.4 187.15H186.05V195.15H210.4 M210.4 198.65H186.05V207.15H210.4 M210.4 209.95H186.05V218.55H210.4 M210.4 221.85H186.05V230.05H210.4 M210.4 233.05H186.05V241.35H210.4" fill="none" stroke="#6a7a10" stroke-width="0.55" opacity="0.4"/>
<path d="M210.4 248.25H186.05V256.75H210.4 M210.4 260.55H186.05V268.45H210.4 M210.4 272.05H186.05V279.75H210.4 M210.4 283.05H186.05V291.55H210.4 M210.4 295.25H186.05V302.95H210.4" fill="none" stroke="#5a3006" stroke-width="0.55" opacity="0.4"/>
</g>
<g id="pf" filter="url(#soft)">
<g clip-path="url(#cuf)">
<rect x="359.4" y="185.9" width="162.6" height="56.7" fill="#fef032"/>
<g filter="url(#b3)">
<path d="M358.4 183.9 H469.4 L483.4 188.5 L493.9 192.0 L481.4 194.9 L461.4 196.5 L421.4 199.1 L397.4 200.7 L383.4 199.8 L377.4 199.5 L370.9 193.9 L368.0 191.4 L358.4 191.4 Z" fill="#74ec3c"/>
</g>
<g filter="url(#b1)">
<path d="M389.4 190.6 L392.3 188.7 L411.3 188.4 L433.2 189.2 L451.4 190.3 L462.4 191.7 L462.4 192.1 L451.4 194.0 L433.2 195.8 L411.3 197.6 L392.3 197.9 L389.4 196.2Z" fill="#30e44a"/>
</g>
<g filter="url(#b2)">
<linearGradient id="guf0" gradientUnits="userSpaceOnUse" x1="369.2" y1="0" x2="394.5" y2="0"><stop offset="0" stop-color="#80c424"/><stop offset="0.85" stop-color="#50d038"/><stop offset="1" stop-color="#50d038" stop-opacity="0"/></linearGradient>
<rect x="366.2" y="186.4" width="28.3" height="9.5" fill="url(#guf0)"/>
<linearGradient id="guf1" gradientUnits="userSpaceOnUse" x1="369.2" y1="0" x2="394.5" y2="0"><stop offset="0" stop-color="#b0d020"/><stop offset="0.85" stop-color="#88d428"/><stop offset="1" stop-color="#88d428" stop-opacity="0"/></linearGradient>
<rect x="366.2" y="197.9" width="28.3" height="10.0" fill="url(#guf1)"/>
<linearGradient id="guf2" gradientUnits="userSpaceOnUse" x1="369.2" y1="0" x2="394.5" y2="0"><stop offset="0" stop-color="#d4b018"/><stop offset="0.85" stop-color="#c8b81c"/><stop offset="1" stop-color="#c8b81c" stop-opacity="0"/></linearGradient>
<rect x="366.2" y="209.2" width="28.3" height="10.1" fill="url(#guf2)"/>
<ellipse cx="388.4" cy="211.2" rx="3" ry="1.5" fill="#60d838"/>
<linearGradient id="guf3" gradientUnits="userSpaceOnUse" x1="369.2" y1="0" x2="394.5" y2="0"><stop offset="0" stop-color="#d4b414"/><stop offset="0.85" stop-color="#d0b818"/><stop offset="1" stop-color="#d0b818" stop-opacity="0"/></linearGradient>
<rect x="366.2" y="221.1" width="28.3" height="9.7" fill="url(#guf3)"/>
<ellipse cx="381.4" cy="224.1" rx="5" ry="2" fill="#a0c420"/>
<linearGradient id="guf4" gradientUnits="userSpaceOnUse" x1="369.2" y1="0" x2="394.5" y2="0"><stop offset="0" stop-color="#d8b414"/><stop offset="0.85" stop-color="#d8b414"/><stop offset="1" stop-color="#d8b414" stop-opacity="0"/></linearGradient>
<rect x="366.2" y="232.3" width="28.3" height="9.8" fill="url(#guf4)"/>
</g>
</g>
<g clip-path="url(#clf)">
<rect x="359.4" y="247.0" width="162.6" height="57.2" fill="url(#goldtop)"/>
<rect x="359.4" y="246.8" width="162.6" height="2.3" fill="#f8e434" filter="url(#b2)"/>
<linearGradient id="rsf" gradientUnits="userSpaceOnUse" x1="499.4" y1="0" x2="520.0" y2="0"><stop offset="0" stop-color="#ecd41a" stop-opacity="0"/><stop offset="0.7" stop-color="#ecd41a"/><stop offset="1" stop-color="#f2dc22"/></linearGradient>
<rect x="499.4" y="247.0" width="22" height="57.2" fill="url(#rsf)"/>
<g filter="url(#b2)">
<path d="M366.2 305.2 V257.5 H392.8 Q393.0 253.1 398.9 252.7 L416.4 252.0 L441.4 251.0 L471.4 250.9 L496.4 252.4 Q514.7 253.6 515.2 260.0 L515.8 295.2 L517.8 305.2 Z" fill="#e96711" stroke="#f8a012" stroke-width="1.2"/>
</g>
<g filter="url(#b2)">
<linearGradient id="glf0" gradientUnits="userSpaceOnUse" x1="369.2" y1="0" x2="393.2" y2="0"><stop offset="0" stop-color="#a04c08"/><stop offset="0.85" stop-color="#a04e08"/><stop offset="1" stop-color="#a04e08" stop-opacity="0"/></linearGradient>
<rect x="366.2" y="247.5" width="27.0" height="10.0" fill="url(#glf0)"/>
<path d="M366.2 247.0 H393.0 V250.4 L378.2 250.6 L372.2 252.5 L366.2 254.0 Z" fill="#8c6a08"/>
<linearGradient id="glf1" gradientUnits="userSpaceOnUse" x1="369.2" y1="0" x2="393.2" y2="0"><stop offset="0" stop-color="#a04c08"/><stop offset="0.85" stop-color="#a04e08"/><stop offset="1" stop-color="#a04e08" stop-opacity="0"/></linearGradient>
<rect x="366.2" y="259.8" width="27.0" height="9.4" fill="url(#glf1)"/>
<path d="M366.2 259.3 H390.0 L386.0 261.2 L377.2 261.6 L371.7 263.3 L366.2 265.3 Z" fill="#8c6a08" opacity="0.85"/>
<linearGradient id="glf2" gradientUnits="userSpaceOnUse" x1="369.2" y1="0" x2="393.2" y2="0"><stop offset="0" stop-color="#a04c08"/><stop offset="0.85" stop-color="#a04e08"/><stop offset="1" stop-color="#a04e08" stop-opacity="0"/></linearGradient>
<rect x="366.2" y="271.3" width="27.0" height="9.2" fill="url(#glf2)"/>
<path d="M366.2 270.8 H390.0 L386.0 272.7 L377.2 273.1 L371.7 274.8 L366.2 276.8 Z" fill="#8c6a08" opacity="0.85"/>
<linearGradient id="glf3" gradientUnits="userSpaceOnUse" x1="369.2" y1="0" x2="393.2" y2="0"><stop offset="0" stop-color="#a04c08"/><stop offset="0.85" stop-color="#a04e08"/><stop offset="1" stop-color="#a04e08" stop-opacity="0"/></linearGradient>
<rect x="366.2" y="282.3" width="27.0" height="10.0" fill="url(#glf3)"/>
<path d="M366.2 281.8 H390.0 L386.0 283.7 L377.2 284.1 L371.7 285.8 L366.2 287.8 Z" fill="#8c6a08" opacity="0.85"/>
<linearGradient id="glf4" gradientUnits="userSpaceOnUse" x1="369.2" y1="0" x2="393.2" y2="0"><stop offset="0" stop-color="#a04c08"/><stop offset="0.85" stop-color="#a04e08"/><stop offset="1" stop-color="#a04e08" stop-opacity="0"/></linearGradient>
<rect x="366.2" y="294.5" width="27.0" height="9.2" fill="url(#glf4)"/>
<path d="M366.2 294.0 H390.0 L386.0 295.9 L377.2 296.3 L371.7 298.0 L366.2 300.0 Z" fill="#8c6a08" opacity="0.85"/>
</g>
<g filter="url(#b4)">
<path d="M391.4,304.5 Q397,297.8 406,297.2 Q414,297.3 420,300.2 L426.4,304.5 Z" fill="#f01a14" stroke="#f4521a" stroke-width="0.5"/>
</g>
</g>
<path d="M392.35 195.2V198.6 M392.35 207.2V209.9 M392.35 218.6V221.8 M392.35 230.1V233.0 M392.35 256.8V260.5 M392.35 268.5V272.0 M392.35 279.8V283.0 M392.35 291.6V295.2" fill="none" stroke="#4a4a20" stroke-width="0.55" opacity="0.5"/>
<path d="M391.0 187.15H369.45V195.15H391.0 M391.0 198.65H369.45V207.15H391.0 M391.0 209.95H369.45V218.55H391.0 M391.0 221.85H369.45V230.05H391.0 M391.0 233.05H369.45V241.35H391.0" fill="none" stroke="#5a6a10" stroke-width="0.55" opacity="0.45"/>
<path d="M391.0 248.25H369.45V256.75H391.0 M391.0 260.55H369.45V268.45H391.0 M391.0 272.05H369.45V279.75H391.0 M391.0 283.05H369.45V291.55H391.0 M391.0 295.25H369.45V302.95H391.0" fill="none" stroke="#4a2806" stroke-width="0.55" opacity="0.45"/>
</g>
<g font-family="'Liberation Sans', Arial, sans-serif" font-weight="bold" fill="#181000" stroke="#181000" filter="url(#softt)">
<text transform="translate(69.0 38.5) scale(0.1)" font-size="40" textLength="260" lengthAdjust="spacing" stroke-width="2.6">Leading edge</text>
<text transform="translate(62.8 62.8) scale(0.1)" font-size="60" textLength="387" lengthAdjust="spacing" stroke-width="3.4">Upper surface</text>
<text transform="translate(69.4 87.6) scale(0.1)" font-size="40" textLength="249" lengthAdjust="spacing" stroke-width="2.6">Trailing edge</text>
<text transform="translate(69.4 99.8) scale(0.1)" font-size="40" textLength="249" lengthAdjust="spacing" stroke-width="2.6">Trailing edge</text>
<text transform="translate(62.8 124.2) scale(0.1)" font-size="60" textLength="388" lengthAdjust="spacing" stroke-width="3.4">Lower surface</text>
<text transform="translate(69.0 148.7) scale(0.1)" font-size="40" textLength="260" lengthAdjust="spacing" stroke-width="2.6">Leading edge</text>
<text transform="translate(249.4 38.5) scale(0.1)" font-size="40" textLength="260" lengthAdjust="spacing" stroke-width="2.6">Leading edge</text>
<text transform="translate(243.2 62.8) scale(0.1)" font-size="60" textLength="387" lengthAdjust="spacing" stroke-width="3.4">Upper surface</text>
<text transform="translate(249.8 87.6) scale(0.1)" font-size="40" textLength="249" lengthAdjust="spacing" stroke-width="2.6">Trailing edge</text>
<text transform="translate(249.8 99.8) scale(0.1)" font-size="40" textLength="249" lengthAdjust="spacing" stroke-width="2.6">Trailing edge</text>
<text transform="translate(243.2 124.2) scale(0.1)" font-size="60" textLength="388" lengthAdjust="spacing" stroke-width="3.4">Lower surface</text>
<text transform="translate(249.4 148.7) scale(0.1)" font-size="40" textLength="260" lengthAdjust="spacing" stroke-width="2.6">Leading edge</text>
<text transform="translate(192.2 40.6) scale(0.1)" font-size="35" textLength="154" lengthAdjust="spacing" stroke-width="2.0">Winglet 1</text>
<text transform="translate(192.2 52.5) scale(0.1)" font-size="35" textLength="154" lengthAdjust="spacing" stroke-width="2.0">Winglet 2</text>
<text transform="translate(192.2 64.0) scale(0.1)" font-size="35" textLength="154" lengthAdjust="spacing" stroke-width="2.0">Winglet 3</text>
<text transform="translate(192.2 75.8) scale(0.1)" font-size="35" textLength="154" lengthAdjust="spacing" stroke-width="2.0">Winglet 4</text>
<text transform="translate(192.2 87.2) scale(0.1)" font-size="35" textLength="154" lengthAdjust="spacing" stroke-width="2.0">Winglet 5</text>
<text transform="translate(192.2 101.8) scale(0.1)" font-size="35" textLength="154" lengthAdjust="spacing" stroke-width="2.0">Winglet 5</text>
<text transform="translate(192.2 113.7) scale(0.1)" font-size="35" textLength="154" lengthAdjust="spacing" stroke-width="2.0">Winglet 4</text>
<text transform="translate(192.2 125.2) scale(0.1)" font-size="35" textLength="154" lengthAdjust="spacing" stroke-width="2.0">Winglet 3</text>
<text transform="translate(192.2 136.7) scale(0.1)" font-size="35" textLength="154" lengthAdjust="spacing" stroke-width="2.0">Winglet 2</text>
<text transform="translate(192.2 148.1) scale(0.1)" font-size="35" textLength="154" lengthAdjust="spacing" stroke-width="2.0">Winglet 1</text>
<text transform="translate(430.4 38.5) scale(0.1)" font-size="40" textLength="260" lengthAdjust="spacing" stroke-width="2.6">Leading edge</text>
<text transform="translate(424.2 62.8) scale(0.1)" font-size="60" textLength="387" lengthAdjust="spacing" stroke-width="3.4">Upper surface</text>
<text transform="translate(430.8 87.6) scale(0.1)" font-size="40" textLength="249" lengthAdjust="spacing" stroke-width="2.6">Trailing edge</text>
<text transform="translate(430.8 99.8) scale(0.1)" font-size="40" textLength="249" lengthAdjust="spacing" stroke-width="2.6">Trailing edge</text>
<text transform="translate(424.2 124.2) scale(0.1)" font-size="60" textLength="388" lengthAdjust="spacing" stroke-width="3.4">Lower surface</text>
<text transform="translate(430.4 148.7) scale(0.1)" font-size="40" textLength="260" lengthAdjust="spacing" stroke-width="2.6">Leading edge</text>
<text transform="translate(373.2 40.6) scale(0.1)" font-size="35" textLength="154" lengthAdjust="spacing" stroke-width="2.0">Winglet 1</text>
<text transform="translate(373.2 52.5) scale(0.1)" font-size="35" textLength="154" lengthAdjust="spacing" stroke-width="2.0">Winglet 2</text>
<text transform="translate(373.2 64.0) scale(0.1)" font-size="35" textLength="154" lengthAdjust="spacing" stroke-width="2.0">Winglet 3</text>
<text transform="translate(373.2 75.8) scale(0.1)" font-size="35" textLength="154" lengthAdjust="spacing" stroke-width="2.0">Winglet 4</text>
<text transform="translate(373.2 87.2) scale(0.1)" font-size="35" textLength="154" lengthAdjust="spacing" stroke-width="2.0">Winglet 5</text>
<text transform="translate(373.2 101.8) scale(0.1)" font-size="35" textLength="154" lengthAdjust="spacing" stroke-width="2.0">Winglet 5</text>
<text transform="translate(373.2 113.7) scale(0.1)" font-size="35" textLength="154" lengthAdjust="spacing" stroke-width="2.0">Winglet 4</text>
<text transform="translate(373.2 125.2) scale(0.1)" font-size="35" textLength="154" lengthAdjust="spacing" stroke-width="2.0">Winglet 3</text>
<text transform="translate(373.2 136.7) scale(0.1)" font-size="35" textLength="154" lengthAdjust="spacing" stroke-width="2.0">Winglet 2</text>
<text transform="translate(373.2 148.1) scale(0.1)" font-size="35" textLength="154" lengthAdjust="spacing" stroke-width="2.0">Winglet 1</text>
<text transform="translate(69.0 190.6) scale(0.1)" font-size="40" textLength="260" lengthAdjust="spacing" stroke-width="2.6">Leading edge</text>
<text transform="translate(62.8 214.9) scale(0.1)" font-size="60" textLength="387" lengthAdjust="spacing" stroke-width="3.4">Upper surface</text>
<text transform="translate(69.4 239.7) scale(0.1)" font-size="40" textLength="249" lengthAdjust="spacing" stroke-width="2.6">Trailing edge</text>
<text transform="translate(69.4 251.9) scale(0.1)" font-size="40" textLength="249" lengthAdjust="spacing" stroke-width="2.6">Trailing edge</text>
<text transform="translate(62.8 276.3) scale(0.1)" font-size="60" textLength="388" lengthAdjust="spacing" stroke-width="3.4">Lower surface</text>
<text transform="translate(69.0 300.8) scale(0.1)" font-size="40" textLength="260" lengthAdjust="spacing" stroke-width="2.6">Leading edge</text>
<text transform="translate(11.8 192.8) scale(0.1)" font-size="35" textLength="154" lengthAdjust="spacing" stroke-width="2.0">Winglet 1</text>
<text transform="translate(11.8 204.6) scale(0.1)" font-size="35" textLength="154" lengthAdjust="spacing" stroke-width="2.0">Winglet 2</text>
<text transform="translate(11.8 216.1) scale(0.1)" font-size="35" textLength="154" lengthAdjust="spacing" stroke-width="2.0">Winglet 3</text>
<text transform="translate(11.8 227.9) scale(0.1)" font-size="35" textLength="154" lengthAdjust="spacing" stroke-width="2.0">Winglet 4</text>
<text transform="translate(11.8 239.2) scale(0.1)" font-size="35" textLength="154" lengthAdjust="spacing" stroke-width="2.0">Winglet 5</text>
<text transform="translate(11.8 253.9) scale(0.1)" font-size="35" textLength="154" lengthAdjust="spacing" stroke-width="2.0">Winglet 5</text>
<text transform="translate(11.8 265.8) scale(0.1)" font-size="35" textLength="154" lengthAdjust="spacing" stroke-width="2.0">Winglet 4</text>
<text transform="translate(11.8 277.2) scale(0.1)" font-size="35" textLength="154" lengthAdjust="spacing" stroke-width="2.0">Winglet 3</text>
<text transform="translate(11.8 288.8) scale(0.1)" font-size="35" textLength="154" lengthAdjust="spacing" stroke-width="2.0">Winglet 2</text>
<text transform="translate(11.8 300.2) scale(0.1)" font-size="35" textLength="154" lengthAdjust="spacing" stroke-width="2.0">Winglet 1</text>
<text transform="translate(249.4 190.6) scale(0.1)" font-size="40" textLength="260" lengthAdjust="spacing" stroke-width="2.6">Leading edge</text>
<text transform="translate(243.2 214.9) scale(0.1)" font-size="60" textLength="387" lengthAdjust="spacing" stroke-width="3.4">Upper surface</text>
<text transform="translate(249.8 239.7) scale(0.1)" font-size="40" textLength="249" lengthAdjust="spacing" stroke-width="2.6">Trailing edge</text>
<text transform="translate(249.8 251.9) scale(0.1)" font-size="40" textLength="249" lengthAdjust="spacing" stroke-width="2.6">Trailing edge</text>
<text transform="translate(243.2 276.3) scale(0.1)" font-size="60" textLength="388" lengthAdjust="spacing" stroke-width="3.4">Lower surface</text>
<text transform="translate(249.4 300.8) scale(0.1)" font-size="40" textLength="260" lengthAdjust="spacing" stroke-width="2.6">Leading edge</text>
<text transform="translate(192.2 192.8) scale(0.1)" font-size="35" textLength="154" lengthAdjust="spacing" stroke-width="2.0">Winglet 1</text>
<text transform="translate(192.2 204.6) scale(0.1)" font-size="35" textLength="154" lengthAdjust="spacing" stroke-width="2.0">Winglet 2</text>
<text transform="translate(192.2 216.1) scale(0.1)" font-size="35" textLength="154" lengthAdjust="spacing" stroke-width="2.0">Winglet 3</text>
<text transform="translate(192.2 227.9) scale(0.1)" font-size="35" textLength="154" lengthAdjust="spacing" stroke-width="2.0">Winglet 4</text>
<text transform="translate(192.2 239.2) scale(0.1)" font-size="35" textLength="154" lengthAdjust="spacing" stroke-width="2.0">Winglet 5</text>
<text transform="translate(192.2 253.9) scale(0.1)" font-size="35" textLength="154" lengthAdjust="spacing" stroke-width="2.0">Winglet 5</text>
<text transform="translate(192.2 265.8) scale(0.1)" font-size="35" textLength="154" lengthAdjust="spacing" stroke-width="2.0">Winglet 4</text>
<text transform="translate(192.2 277.2) scale(0.1)" font-size="35" textLength="154" lengthAdjust="spacing" stroke-width="2.0">Winglet 3</text>
<text transform="translate(192.2 288.8) scale(0.1)" font-size="35" textLength="154" lengthAdjust="spacing" stroke-width="2.0">Winglet 2</text>
<text transform="translate(192.2 300.2) scale(0.1)" font-size="35" textLength="154" lengthAdjust="spacing" stroke-width="2.0">Winglet 1</text>
<text transform="translate(430.4 190.6) scale(0.1)" font-size="40" textLength="260" lengthAdjust="spacing" stroke-width="2.6">Leading edge</text>
<text transform="translate(424.2 214.9) scale(0.1)" font-size="60" textLength="387" lengthAdjust="spacing" stroke-width="3.4">Upper surface</text>
<text transform="translate(430.8 239.7) scale(0.1)" font-size="40" textLength="249" lengthAdjust="spacing" stroke-width="2.6">Trailing edge</text>
<text transform="translate(430.8 251.9) scale(0.1)" font-size="40" textLength="249" lengthAdjust="spacing" stroke-width="2.6">Trailing edge</text>
<text transform="translate(424.2 276.3) scale(0.1)" font-size="60" textLength="388" lengthAdjust="spacing" stroke-width="3.4">Lower surface</text>
<text transform="translate(430.4 300.8) scale(0.1)" font-size="40" textLength="260" lengthAdjust="spacing" stroke-width="2.6">Leading edge</text>
<text transform="translate(373.2 192.8) scale(0.1)" font-size="35" textLength="154" lengthAdjust="spacing" stroke-width="2.0">Winglet 1</text>
<text transform="translate(373.2 204.6) scale(0.1)" font-size="35" textLength="154" lengthAdjust="spacing" stroke-width="2.0">Winglet 2</text>
<text transform="translate(373.2 216.1) scale(0.1)" font-size="35" textLength="154" lengthAdjust="spacing" stroke-width="2.0">Winglet 3</text>
<text transform="translate(373.2 227.9) scale(0.1)" font-size="35" textLength="154" lengthAdjust="spacing" stroke-width="2.0">Winglet 4</text>
<text transform="translate(373.2 239.2) scale(0.1)" font-size="35" textLength="154" lengthAdjust="spacing" stroke-width="2.0">Winglet 5</text>
<text transform="translate(373.2 253.9) scale(0.1)" font-size="35" textLength="154" lengthAdjust="spacing" stroke-width="2.0">Winglet 5</text>
<text transform="translate(373.2 265.8) scale(0.1)" font-size="35" textLength="154" lengthAdjust="spacing" stroke-width="2.0">Winglet 4</text>
<text transform="translate(373.2 277.2) scale(0.1)" font-size="35" textLength="154" lengthAdjust="spacing" stroke-width="2.0">Winglet 3</text>
<text transform="translate(373.2 288.8) scale(0.1)" font-size="35" textLength="154" lengthAdjust="spacing" stroke-width="2.0">Winglet 2</text>
<text transform="translate(373.2 300.2) scale(0.1)" font-size="35" textLength="154" lengthAdjust="spacing" stroke-width="2.0">Winglet 1</text>
</g>
<g font-family="'Liberation Serif', 'Times New Roman', serif" fill="#2a2a2a" stroke="#2a2a2a" stroke-width="2.2" text-anchor="middle" filter="url(#softt)">
<text transform="translate(86.3 170.0) scale(0.1)" font-size="110">(a)</text>
<text transform="translate(267.3 168.6) scale(0.1)" font-size="110">(b)</text>
<text transform="translate(450.6 169.8) scale(0.1)" font-size="110">(c)</text>
<text transform="translate(86.3 321.8) scale(0.1)" font-size="110">(d)</text>
<text transform="translate(268.0 321.3) scale(0.1)" font-size="110">(e)</text>
<text transform="translate(449.8 321.2) scale(0.1)" font-size="110">(f)</text>
</g>
</svg>
</body></html>
